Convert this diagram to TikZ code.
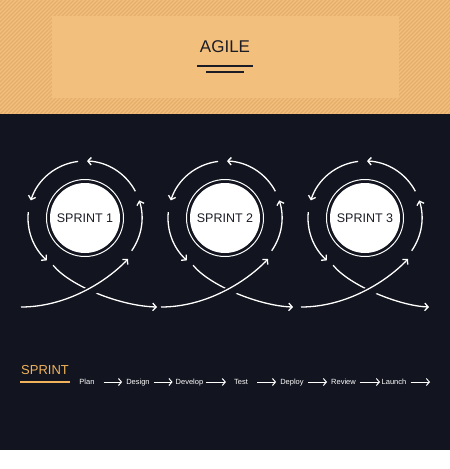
\documentclass[tikz,border=0pt]{standalone}
\usepackage{fontspec}
\setmainfont{Liberation Sans}
\usetikzlibrary{arrows.meta}
\definecolor{bg}{HTML}{12141F}
\definecolor{band}{HTML}{F2BF7C}
\definecolor{stripe}{HTML}{E4AE6A}
\definecolor{accent}{HTML}{F0B35C}
\definecolor{ink}{HTML}{1B1C26}
\newcommand\drawsprint[4]{%
  \begin{scope}[shift={(#2,218)}, yscale=-1]
    % outgoing spiral
    \coordinate (out#1) at (#4,-89);
    \draw[looparrow] (236:57) .. controls (-15,-68) and (35,-88) .. (out#1);
    % incoming curve with a halo that cuts the spiral
    \coordinate (in#1) at (-64,-89);
    \draw[halo] (in#1) .. controls (-20,-89) and (20,-65) .. (43,-41);
    \draw[looparrow] (in#1) .. controls (-20,-89) and (20,-65) .. (43,-41);
    % circular arcs
    \draw[looparrow] (-35:57) arc[start angle=-35, end angle=18, radius=57];
    \draw[looparrow] (28:57) arc[start angle=28, end angle=88, radius=57];
    \draw[looparrow] (97:57) arc[start angle=97, end angle=162, radius=57];
    \draw[looparrow] (174:57) arc[start angle=174, end angle=228, radius=57];
    \node[ring] (ring#1) at (0,0) {};
    \node[disk] (sprint#1) at (0,0) {SPRINT #3};
  \end{scope}}
\begin{document}
\begin{tikzpicture}[x=1pt,y=-1pt,
  loopline/.style={draw=white, line width=1.3pt},
  looparrow/.style={loopline, -{Straight Barb[length=3.4pt,width=7.5pt]}},
  halo/.style={draw=bg, line width=10pt, shorten <=30pt, shorten >=30pt},
  disk/.style={circle, fill=white, minimum size=70pt, inner sep=0pt, text=ink,
    font=\fontsize{12.5}{14}\selectfont},
  ring/.style={circle, draw=white, line width=1pt, minimum size=77pt, inner sep=0pt},
  steplabel/.style={text=white, font=\fontsize{7.5}{9}\selectfont, inner sep=0pt,
    text height=5.4pt, text depth=0pt},
  flowarrow/.style={draw=white, line width=1pt, -{Straight Barb[length=3pt,width=7pt]}},
  titleline/.style={draw=ink, line width=1.3pt},
]
\useasboundingbox (0,0) rectangle (450,469);
\fill[white] (0,0) rectangle (450,469);
% top band with hatching
\fill[band] (0,0) rectangle (450,114);
\begin{scope}
  \clip (0,0) rectangle (450,114);
  \foreach \i in {-120,-116,...,452} \draw[stripe, line width=1.3pt] (\i,114) -- ++(114,-114);
\end{scope}
\fill[band] (52,16) rectangle (399,98);
\node[font=\fontsize{17}{20}\selectfont, text=ink, inner sep=0pt] (title) at (225,47) {AGILE};
\draw[titleline] (197,66) -- (253,66);
\draw[titleline] (206,72) -- (244,72);
% dark panel
\fill[bg] (0,114) rectangle (450,450);
% sprints (drawn right to left so each spiral end lies on top)
\drawsprint{3}{365}{3}{64}
\drawsprint{2}{225}{2}{68}
\drawsprint{1}{85}{1}{72}
% bottom legend
\node[font=\fontsize{13}{15}\selectfont, text=accent, anchor=base west, inner sep=0pt] (legend) at (21,374) {SPRINT};
\draw[accent, line width=1.2pt] (20,382) -- (70,382);
\node[steplabel] (plan) at (87,382) {Plan};
\node[steplabel] (design) at (138,382) {Design};
\node[steplabel] (develop) at (189.5,382) {Develop};
\node[steplabel] (test) at (241,382) {Test};
\node[steplabel] (deploy) at (292,382) {Deploy};
\node[steplabel] (review) at (343.5,382) {Review};
\node[steplabel] (launch) at (394,382) {Launch};
\coordinate (endflow) at (430,382);
\draw[flowarrow] ([xshift=9pt]plan.east) -- ([xshift=-4pt]design.west);
\draw[flowarrow] ([xshift=4pt]design.east) -- ([xshift=-3pt]develop.west);
\draw[flowarrow] ([xshift=3pt]develop.east) -- ([xshift=-8pt]test.west);
\draw[flowarrow] ([xshift=9pt]test.east) -- ([xshift=-4pt]deploy.west);
\draw[flowarrow] ([xshift=4pt]deploy.east) -- ([xshift=-4pt]review.west);
\draw[flowarrow] ([xshift=4pt]review.east) -- ([xshift=-1.5pt]launch.west);
\draw[flowarrow] ([xshift=4pt]launch.east) -- (endflow);
\end{tikzpicture}
\end{document}
